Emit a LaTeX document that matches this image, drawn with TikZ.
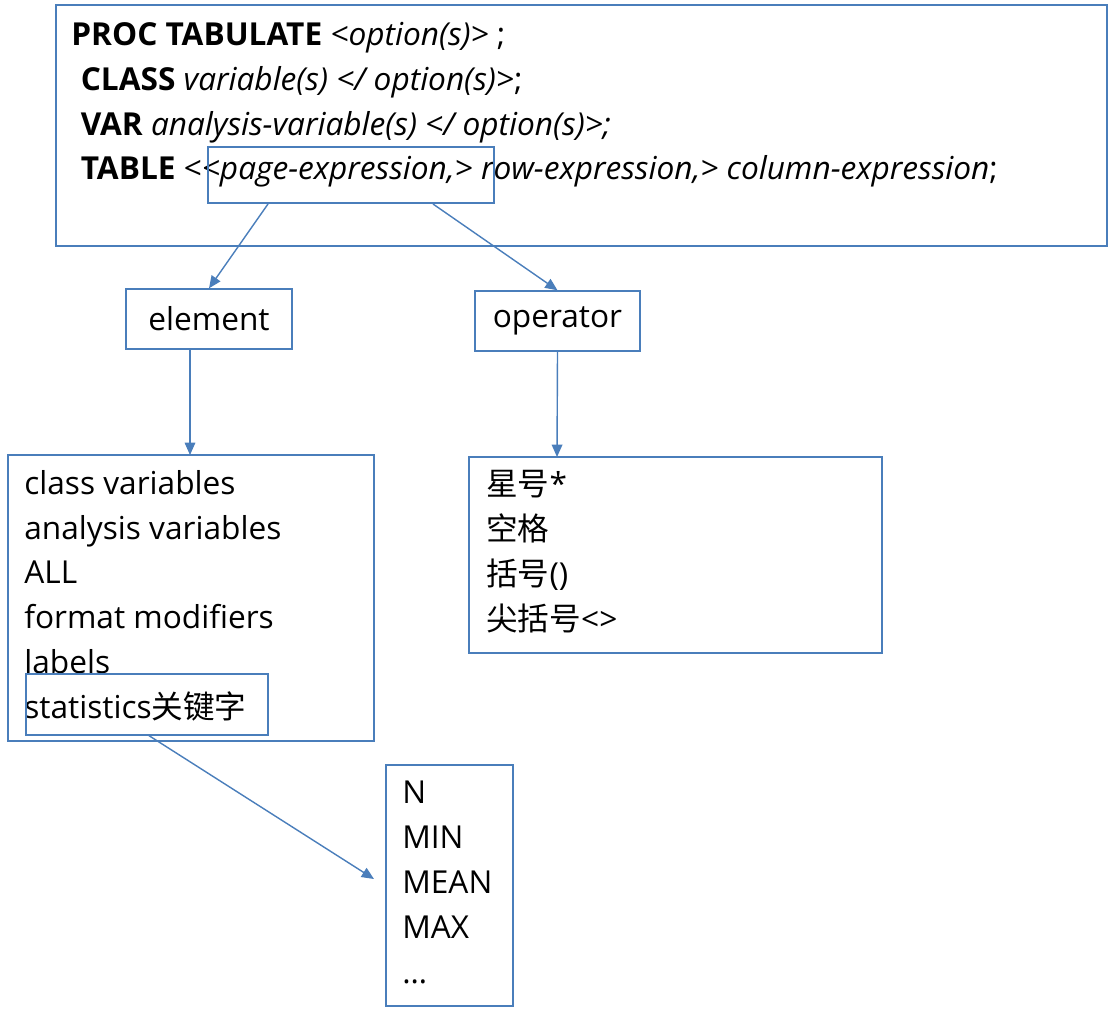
\documentclass[tikz,border=0pt]{standalone}
\usepackage{fontspec}
\setmainfont{Open Sans}
\newfontfamily\cjk{Noto Sans CJK SC}
\usetikzlibrary{arrows.meta,positioning}
\definecolor{boxblue}{HTML}{4A7EBB}
\tikzset{
  every node/.style={font=\fontsize{18}{25.5}\selectfont},
  frame/.style={draw=boxblue, line width=0.8pt, inner sep=0pt},
  txt/.style={anchor=north west, align=left, inner sep=0pt},
  arrow/.style={-{Triangle[length=7pt,width=6pt]}, draw=boxblue, line width=0.8pt}
}
\begin{document}
\begin{tikzpicture}[x=0.02cm, y=-0.02cm]
\useasboundingbox (0,0) rectangle (1108,1020);

% Frames
\draw[frame] (56,5) rectangle (1107,246);
\node[txt] (syntax) at (71,22) {\textbf{PROC TABULATE} \textit{<option(s)>} ;\\
 \hspace*{0.3em}\textbf{CLASS} \textit{variable(s) </ option(s)>};\\
 \hspace*{0.3em}\textbf{VAR} \textit{analysis-variable(s) </ option(s)>;}\\
 \hspace*{0.3em}\textbf{TABLE} <\textit{<page-expression,> row-expression,> column-expression};};
\coordinate (pg) at (208,147);
\draw[frame] (pg) rectangle (494,203);
\coordinate (pgl) at (268,204);
\coordinate (pgr) at (433,204);

% Element / operator
\node[frame, minimum width=3.32cm, minimum height=1.2cm] (element) at (209,319) {element};
\node[frame, minimum width=3.3cm, minimum height=1.2cm] (operator) at (557.5,321) {operator};

% Lists
\draw[frame] (8,455) rectangle (374,741);
\coordinate (elist) at (190,455);
\node[txt] (elems) at (24,470) {class variables\\analysis variables\\ALL\\format modifiers\\labels\\statistics{\cjk 关键字}};
\draw[frame] (26,674) rectangle (268,735);
\coordinate (stat) at (148,735);

\draw[frame] (469,457) rectangle (882,653);
\coordinate (olist) at (557,457);
\node[txt] (ops) at (486,470) {{\cjk 星号}*\\{\cjk 空格}\\{\cjk 括号}()\\{\cjk 尖括号}<>};

\draw[frame] (386,765) rectangle (513,1006);
\coordinate (slist) at (374,879);
\node[txt] (stats) at (402,781) {N\\MIN\\MEAN\\MAX\\\dots};

% Arrows
\draw[arrow] (pgl) -- (element.north);
\draw[arrow] (pgr) -- (operator.north);
\draw[arrow] (element.south -| elist) -- (elist);
\draw[arrow] (operator.south) -- (olist);
\draw[arrow] (stat) -- (slist);
\end{tikzpicture}
\end{document}
